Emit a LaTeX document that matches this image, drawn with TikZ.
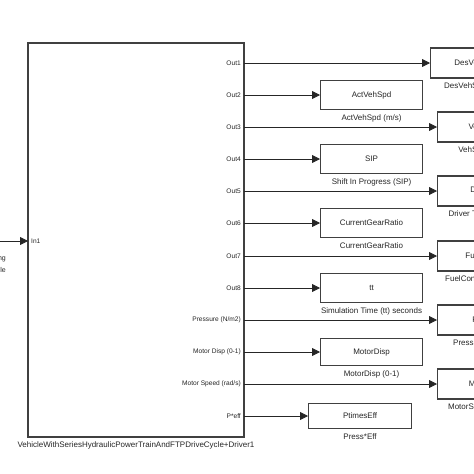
\documentclass[tikz,border=0pt]{standalone}
\usepackage{fontspec}
\setmainfont{Liberation Sans}
\usetikzlibrary{arrows.meta,positioning}

\tikzset{
  blk/.style={draw=black!75, line width=1.1pt, fill=white, inner sep=0pt},
  sig/.style={draw=black!85, line width=0.8pt, -{Triangle[length=8pt,width=8pt]}},
  portlbl/.style={font=\fontsize{6.6}{7}\selectfont, text=black!85, inner sep=1pt},
  captxt/.style={font=\fontsize{8}{9}\selectfont, text=black!85, inner sep=1pt},
}

\begin{document}
\begin{tikzpicture}[x=1pt, y=-1pt]
\useasboundingbox (0,0) rectangle (474,474);

% subsystem block
\node[blk, minimum width=216pt, minimum height=394pt] (veh) at (136,240) {};
\node[captxt, font=\fontsize{8}{9}\selectfont, below=3pt of veh] (vehname) {VehicleWithSeriesHydraulicPowerTrainAndFTPDriveCycle+Driver1};

% input
\coordinate (src) at (0,241);
\coordinate (in1) at (28,241);
\draw[sig] (src) -- (in1);
\node[portlbl, anchor=west] (in1lbl) at (30,241) {In1};
\node[captxt, font=\fontsize{7}{12}\selectfont, align=right, anchor=north east] (srcname) at (7,254) {Driving\\Schedule};

% outputs going to the scope blocks next to the subsystem
\foreach \i/\y/\port/\bx/\bw/\bh/\inner/\capt in {
  2/95/Out2/320/102/29/ActVehSpd/{ActVehSpd (m/s)},
  4/159/Out4/320/102/29/SIP/{Shift In Progress (SIP)},
  6/223/Out6/320/102/29/CurrentGearRatio/CurrentGearRatio,
  8/288/Out8/320/102/29/tt/{Simulation Time (tt) seconds},
  10/352/{Motor Disp (0-1)}/320/102/27/MotorDisp/{MotorDisp (0-1)},
  12/416/P*eff/308/103/25/PtimesEff/Press*Eff}
{
  \coordinate (p\i) at (244,\y);
  \node[portlbl, anchor=east] (plbl\i) at (242,\y) {\port};
  \node[blk, captxt, minimum width=\bw pt, minimum height=\bh pt, anchor=west] (b\i) at (\bx,\y) {\inner};
  \node[captxt, below=3pt of b\i] (c\i) {\capt};
  \draw[sig] (p\i) -- (b\i.west);
}

% outputs going to the scope blocks at the far right
\foreach \i/\y/\port/\bx/\inner/\capt in {
  1/63/Out1/430/DesVehSpd/{DesVehSpd (m/s)},
  3/127/Out3/437/VehSpd/{VehSpd (m/s)},
  5/191/Out5/437/DrvTrq/{Driver Torque (Nm)},
  7/256/Out7/437/FuelCons/{FuelConsumption (g)},
  9/320/{Pressure (N/m2)}/437/Press/{Pressure (N/m2)},
  11/384/{Motor Speed (rad/s)}/437/MotSpd/{MotorSpeed (rad/s)}}
{
  \coordinate (p\i) at (244,\y);
  \node[portlbl, anchor=east] (plbl\i) at (242,\y) {\port};
  \node[blk, captxt, minimum width=90pt, minimum height=30pt, anchor=west] (b\i) at (\bx,\y) {\inner};
  \node[captxt, below=3pt of b\i] (c\i) {\capt};
  \draw[sig] (p\i) -- (b\i.west);
}
\end{tikzpicture}
\end{document}
